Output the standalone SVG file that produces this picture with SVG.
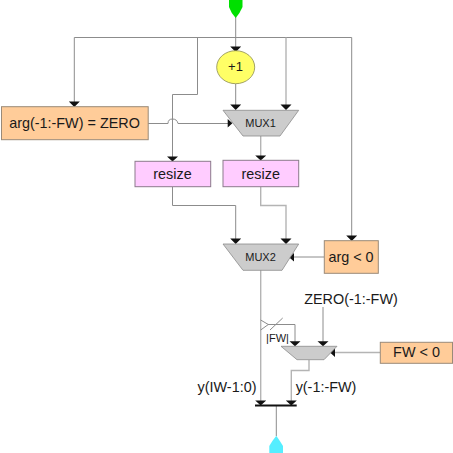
<svg xmlns="http://www.w3.org/2000/svg" width="453" height="453" viewBox="0 0 453 453">
<style>
text{font-family:"Liberation Sans",Arial,sans-serif;fill:#1a1a1a;text-anchor:middle}
.l{font-size:14.400px}
.s{font-size:11px}
.c{fill:none;stroke:#8c8c8c;stroke-width:1}
.lt{fill:none;stroke:#b4b4b4;stroke-width:1.4}
.o{fill:#ffcc99;stroke:#9a8a78;stroke-width:1}
.p{fill:#ffccff;stroke:#8c7a8c;stroke-width:1}
.m{fill:#cccccc;stroke:#8c8c8c;stroke-width:.8}
</style>
<g id="connectors">
<path class="c" d="M235.700 17V47"/>
<path class="c" d="M74.300 37.500H351.700V236"/>
<path class="c" d="M74.300 37.500V102"/>
<path class="c" d="M197.500 37.500V94.500H172.500V157"/>
<path class="lt" d="M286 37.500V105"/>
<path class="c" d="M235.700 84V105"/>
<path class="c" d="M148 123.500H168Q168 119 172.500 119Q177 119 178 123.500H229"/>
<path class="lt" d="M260.700 136V156"/>
<path class="c" d="M172.500 187V205.500H235.700V239"/>
<path class="lt" d="M260.700 187V205.500H286V239"/>
<path class="c" d="M324 257H293"/>
<path class="lt" d="M260.700 270V401"/>
<path class="c" d="M268 324.500H295V342"/>
<path class="c" d="M323 307V342"/>
<path class="lt" d="M380 352.500H334"/>
<path class="lt" d="M309 360V370.500H291.300V401"/>
<path class="c" d="M276.300 406V436"/>
<path class="c" d="M260.700 320L268.300 324.500L260.700 330"/>
<path class="c" d="M270 330L282.700 318"/>
<path d="M230.200 46.500h11l-5.500 5.500z M280.500 104.500h11l-5.500 5.500z M230.200 104.500h11l-5.500 5.500z M68.800 101.500h11l-5.500 5.500z M167 156.500h11l-5.500 5z M255.200 155.500h11l-5.500 5z M230.200 238.500h11l-5.500 5.500z M280.500 238.500h11l-5.500 5.500z M346.200 235.500h11l-5.500 5.500z M289.500 341.200h11l-5.500 5z M317.500 341.200h11l-5.500 5z M255.200 400.500h11l-5.500 5z M285.800 400.500h11l-5.500 5z" fill="#111"/>
<path d="M227.700 119v8.500l4.700-4.300z M294 253v8.500l-5-4.300z M335 348v9l-5-4.500z" fill="#111"/>
<path d="M255 405.500H296.700" stroke="#111" stroke-width="2" fill="none"/>
</g>
<g id="start"><path d="M229 0H242.500V7Q240 13 235.700 18Q231 13 229 7Z" fill="#00e000"/></g>
<g id="end"><path d="M276.300 435.700Q280 441 283 446V453H269.300V446Q272 441 276.300 435.700Z" fill="#55eeff"/></g>
<g id="inc"><ellipse cx="235.700" cy="67.200" rx="19" ry="16.500" fill="#ffff66" stroke="#8c8c50" stroke-width=".8"/><text x="235.500" y="71" style="font-size:13px">+1</text></g>
<g id="zero-test"><rect class="o" x="1.500" y="106.700" width="146.700" height="33"/><text class="l" x="74.500" y="128">arg(-1:-FW) = ZERO</text></g>
<g id="mux1"><path class="m" d="M223 110.300H298.700L280 136H243Z"/><text class="s" x="260.500" y="127">MUX1</text></g>
<g id="resize1"><rect class="p" x="135" y="161.300" width="75.700" height="25.400"/><text class="l" x="172.500" y="179">resize</text></g>
<g id="resize2"><rect class="p" x="223" y="160.300" width="75.700" height="26.400"/><text class="l" x="260.700" y="178.500">resize</text></g>
<g id="mux2"><path class="m" d="M223 244H298.700L282 270.300H243Z"/><text class="s" x="260.500" y="261">MUX2</text></g>
<g id="sign"><rect class="o" x="324.300" y="240.700" width="54" height="32.600"/><text class="l" x="351" y="262">arg &lt; 0</text></g>
<g id="zero-label"><text class="l" x="351" y="304">ZERO(-1:-FW)</text></g>
<g id="fw-label"><text class="s" x="277.500" y="342">|FW|</text></g>
<g id="mux3"><path class="m" d="M281 346.300H337L324 359.700H297Z"/></g>
<g id="fw-test"><rect class="o" x="380.300" y="342.300" width="72.200" height="21"/><text class="l" x="416.500" y="357">FW &lt; 0</text></g>
<g id="int-label"><text class="l" x="227" y="392">y(IW-1:0)</text></g>
<g id="frac-label"><text class="l" x="326" y="392">y(-1:-FW)</text></g>
</svg>
